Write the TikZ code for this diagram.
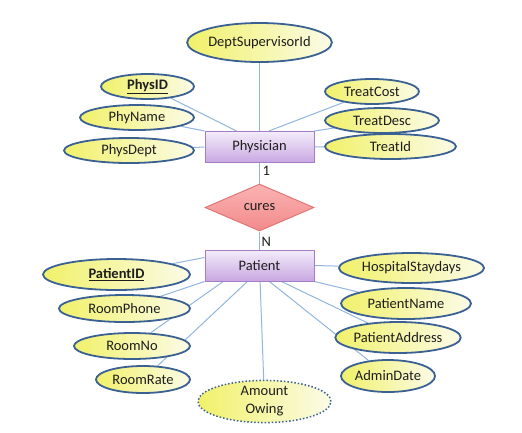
\documentclass[tikz,border=0pt]{standalone}
\usepackage{fontspec}
\setmainfont{Carlito}
\usetikzlibrary{shapes.geometric,calc,backgrounds}
\definecolor{ellborder}{HTML}{3B6193}
\definecolor{ellleft}{HTML}{F1F16A}
\definecolor{ellright}{HTML}{FBFBE8}
\definecolor{boxtop}{HTML}{F3ECF9}
\definecolor{boxbot}{HTML}{C8A7E2}
\definecolor{boxborder}{HTML}{A47DC4}
\definecolor{diatop}{HTML}{FBB3B3}
\definecolor{diabot}{HTML}{F28A8A}
\definecolor{diaborder}{HTML}{E07676}
\definecolor{conn}{HTML}{92B5E0}
\definecolor{txt}{HTML}{1E1E1E}
\tikzset{
  attr/.style={ellipse, draw=ellborder, line width=1.8pt, left color=ellleft, right color=ellright,
    inner sep=0pt, text=txt, font=\fontsize{14.5}{18}\selectfont},
  dattr/.style={attr, line width=1.5pt, dotted},
  entity/.style={rectangle, draw=boxborder, line width=1pt, top color=boxtop, bottom color=boxbot,
    minimum width=109pt, minimum height=31pt, inner sep=0pt, text=txt, font=\fontsize{14.5}{18}\selectfont},
  rel/.style={diamond, draw=diaborder, line width=1pt, top color=diatop, bottom color=diabot,
    aspect=2.3, minimum width=109pt, minimum height=47pt, inner sep=0pt, text=txt, font=\fontsize{14.5}{18}\selectfont},
  link/.style={draw=conn, line width=1pt},
  card/.style={text=txt, font=\fontsize{14.5}{18}\selectfont, inner sep=0pt}
}
\begin{document}
\begin{tikzpicture}[x=1pt,y=-1pt]
\useasboundingbox (0,0) rectangle (522,432);
% entities and relationship
\node[entity] (phys) at (259.5,147) {Physician};
\node[entity] (pat) at (259.5,265.5) {Patient};
\node[rel] (cures) at (259.5,207.5) {cures};
% physician attributes
\node[attr, minimum width=133pt, minimum height=39pt] (dsup) at (259.5,42.5) {DeptSupervisorId};
\node[attr, minimum width=93pt, minimum height=25pt] (physid) at (147.5,86.5) {\underline{\textbf{PhysID}}};
\node[attr, minimum width=114pt, minimum height=25pt] (phyname) at (137,117.5) {PhyName};
\node[attr, minimum width=130pt, minimum height=25pt] (physdept) at (129,150.5) {PhysDept};
\node[attr, minimum width=94pt, minimum height=25pt] (tcost) at (372,91.5) {TreatCost};
\node[attr, minimum width=114pt, minimum height=25pt] (tdesc) at (382,120.5) {TreatDesc};
\node[attr, minimum width=131pt, minimum height=25pt] (tid) at (390.5,146.5) {TreatId};
% patient attributes
\node[attr, minimum width=147pt, minimum height=31pt] (patid) at (116.5,274.5) {\underline{\textbf{PatientID}}};
\node[attr, minimum width=131pt, minimum height=27pt] (rphone) at (124.5,308.5) {RoomPhone};
\node[attr, minimum width=116pt, minimum height=26pt] (rno) at (132,346) {RoomNo};
\node[attr, minimum width=94pt, minimum height=27pt] (rrate) at (143,379.5) {RoomRate};
\node[dattr, minimum width=133pt, minimum height=41pt, align=center] (owing) at (264.5,401.5) {Amount\\Owing};
\node[attr, minimum width=145pt, minimum height=30pt] (hosp) at (411.5,268) {HospitalStaydays};
\node[attr, minimum width=130pt, minimum height=31pt] (pname) at (406,303.5) {PatientName};
\node[attr, minimum width=116pt, minimum height=31pt] (paddr) at (398,337.5) {PatientAddress};
\node[attr, minimum width=94pt, minimum height=32pt] (adate) at (388,376) {AdminDate};
% connection points on boxes
\coordinate (p1) at ($(phys.north west)!0.29!(phys.north east)$);
\coordinate (p2) at ($(phys.north west)!0.585!(phys.north east)$);
\coordinate (q1) at ($(pat.south west)!0.17!(pat.south east)$);
\coordinate (q2) at ($(pat.south west)!0.39!(pat.south east)$);
\coordinate (q3) at ($(pat.south west)!0.59!(pat.south east)$);
\coordinate (q4) at ($(pat.south west)!0.70!(pat.south east)$);
\coordinate (pl) at ($(pat.north west)!0.5!(pat.west)$);
% cardinalities
\node[card, anchor=west] (one) at ($(phys.south)+(3,8)$) {1};
\node[card, anchor=west] (enn) at ($(pat.north)+(2,-8)$) {N};
% connectors behind nodes
\begin{scope}[on background layer]
\draw[link] (dsup) -- (phys);
\draw[link] (physid) -- (p1);
\draw[link] (phyname) -- (phys.north west);
\draw[link] (physdept) -- (phys.west);
\draw[link] (tcost) -- (p2);
\draw[link] (tdesc) -- (phys.north east);
\draw[link] (tid) -- (phys.east);
\draw[link] (phys) -- (cures);
\draw[link] (cures) -- (pat);
\draw[link] (patid) -- (pl);
\draw[link] (rphone) -- (pat.south west);
\draw[link] (rno) -- (q1);
\draw[link] (rrate) -- (q2);
\draw[link] (owing) -- (pat);
\draw[link] (adate) -- (q3);
\draw[link] (paddr) -- (q4);
\draw[link] (pname) -- (pat.south east);
\draw[link] (hosp) -- (pat.east);
\end{scope}
\end{tikzpicture}
\end{document}
